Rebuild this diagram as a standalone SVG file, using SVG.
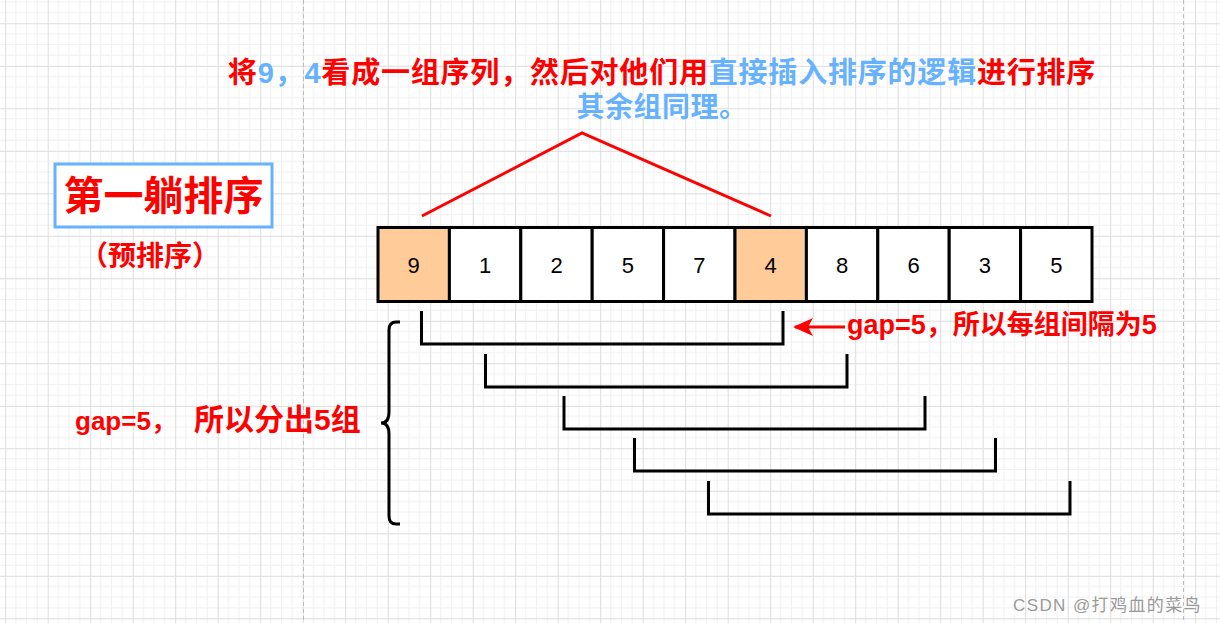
<svg xmlns="http://www.w3.org/2000/svg" width="1220" height="623" viewBox="0 0 1220 623">
  <defs>
    <pattern id="grid" x="5.2" y="23.3" width="42.5" height="42.5" patternUnits="userSpaceOnUse">
      <path d="M10.625 0V42.5M21.25 0V42.5M31.875 0V42.5M0 10.625H42.5M0 21.25H42.5M0 31.875H42.5" stroke="#f0f0f0" stroke-width="1" fill="none"/>
      <path d="M0.5 0V42.5M0 0.5H42.5" stroke="#dcdcdc" stroke-width="1" fill="none"/>
    </pattern>
    <marker id="redArrow" viewBox="0 0 20 18" refX="18" refY="9" markerWidth="20" markerHeight="18" markerUnits="userSpaceOnUse" orient="auto">
      <path d="M0 0 L20 9 L0 18 L5 9 Z" fill="#ff0000"/>
    </marker>
    <style>
      .txt { font-family: "Liberation Sans", "Noto Sans CJK SC", sans-serif; font-weight: bold; }
      .red { fill: #ff0000; }
      .blue { fill: #66b2ff; }
      .cell { stroke: #000; stroke-width: 3; fill: #ffffff; }
      .cell.hl { fill: #ffcc99; }
      .num { font-family: "Liberation Sans", Arial, sans-serif; font-size: 22px; fill: #000; text-anchor: middle; }
      .bracket { stroke: #000; stroke-width: 3; fill: none; }
      .redline { stroke: #ff0000; stroke-width: 3; fill: none; }
      .page { stroke: #bdbdbd; stroke-width: 1; stroke-dasharray: 4 3; }
    </style>
  </defs>

  <rect width="1220" height="623" fill="#ffffff"/>
  <rect width="1220" height="623" fill="url(#grid)"/>
  <line class="page" x1="303.5" y1="0" x2="303.5" y2="623"/>
  <line class="page" x1="1183.5" y1="0" x2="1183.5" y2="623"/>

  <g id="title">
    <text class="txt" x="662" y="83" font-size="29" letter-spacing="0.8" text-anchor="middle"><tspan class="red">将</tspan><tspan class="blue">9，4</tspan><tspan class="red">看成一组序列，然后对他们用</tspan><tspan class="blue">直接插入排序的逻辑</tspan><tspan class="red">进行排序</tspan></text>
    <text class="txt blue" x="662" y="117" font-size="28" letter-spacing="0.5" text-anchor="middle">其余组同理。</text>
  </g>

  <g id="pass1">
    <rect x="55" y="164" width="217" height="63" fill="#ffffff" stroke="#66b2ff" stroke-width="3"/>
    <text class="txt red" x="163.5" y="210" font-size="40" text-anchor="middle">第一躺排序</text>
  </g>

  <g id="pre-sort">
    <text class="txt red" x="150" y="266" font-size="28" text-anchor="middle">（预排序）</text>
  </g>

  <g id="array">
    <g id="cell0"><rect class="cell hl" x="378" y="227.5" width="71.4" height="74"/><text class="num" x="413.7" y="273">9</text></g>
    <g id="cell1"><rect class="cell" x="449.4" y="227.5" width="71.4" height="74"/><text class="num" x="485.1" y="273">1</text></g>
    <g id="cell2"><rect class="cell" x="520.8" y="227.5" width="71.4" height="74"/><text class="num" x="556.5" y="273">2</text></g>
    <g id="cell3"><rect class="cell" x="592.2" y="227.5" width="71.4" height="74"/><text class="num" x="627.9" y="273">5</text></g>
    <g id="cell4"><rect class="cell" x="663.6" y="227.5" width="71.4" height="74"/><text class="num" x="699.3" y="273">7</text></g>
    <g id="cell5"><rect class="cell hl" x="735" y="227.5" width="71.4" height="74"/><text class="num" x="770.7" y="273">4</text></g>
    <g id="cell6"><rect class="cell" x="806.4" y="227.5" width="71.4" height="74"/><text class="num" x="842.1" y="273">8</text></g>
    <g id="cell7"><rect class="cell" x="877.8" y="227.5" width="71.4" height="74"/><text class="num" x="913.5" y="273">6</text></g>
    <g id="cell8"><rect class="cell" x="949.2" y="227.5" width="71.4" height="74"/><text class="num" x="984.9" y="273">3</text></g>
    <g id="cell9"><rect class="cell" x="1020.6" y="227.5" width="71.4" height="74"/><text class="num" x="1056.3" y="273">5</text></g>
  </g>

  <g id="label-groups">
    <text class="txt red" x="75" y="430" font-size="26"><tspan>gap=5，</tspan><tspan x="194" font-size="30">所以分出5组</tspan></text>
  </g>

  <g id="label-interval">
    <text class="txt red" x="847" y="334" font-size="27">gap=5，所以每组间隔为5</text>
  </g>

  <g id="watermark">
    <text x="1013" y="611" font-family="'Liberation Sans', 'Noto Sans CJK SC', sans-serif" font-size="17" letter-spacing="1.4" fill="#9a9a9a">CSDN @打鸡血的菜鸟</text>
  </g>

  <g id="connectors">
    <polyline class="redline" points="422,216 582,133 771,216"/>
    <path class="bracket" d="M421.5 311 V344 H783 V311"/>
    <path class="bracket" d="M485.5 354 V387 H847 V354"/>
    <path class="bracket" d="M564 396 V429 H925 V396"/>
    <path class="bracket" d="M634.5 438 V471 H995.5 V438"/>
    <path class="bracket" d="M708.5 481 V514 H1070 V481"/>
    <path class="bracket" d="M400 322 H396 Q389 322 389 330 V412 Q389 423 381 423 Q389 423 389 434 V516 Q389 524 396 524 H400"/>
    <line x1="845" y1="327" x2="795" y2="327" stroke="#ff0000" stroke-width="3" marker-end="url(#redArrow)"/>
  </g>
</svg>
